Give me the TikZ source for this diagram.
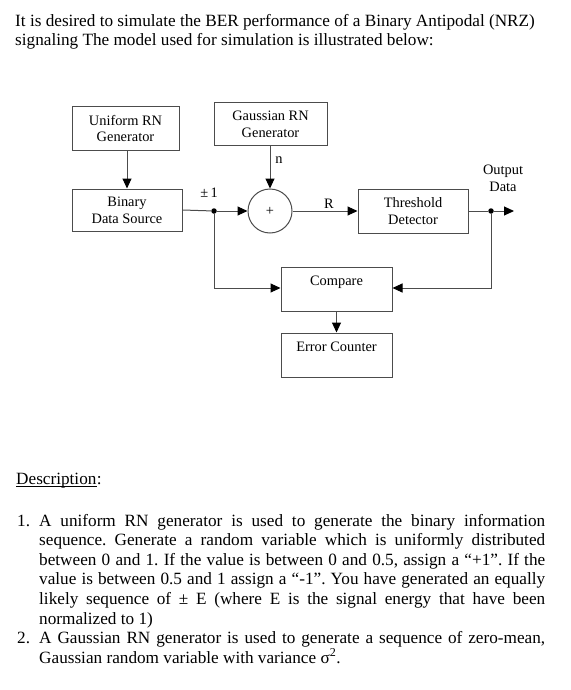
\documentclass[tikz,border=0pt]{standalone}
\usepackage{fontspec}
\setmainfont{Liberation Serif}
\usetikzlibrary{arrows.meta}
\frenchspacing
\begin{document}
\begin{tikzpicture}[x=1pt,y=-1pt,
  box/.style={draw=black!70,line width=1pt,inner sep=0pt,align=center,font=\fontsize{14.4}{17}\selectfont},
  conn/.style={draw=black!70,line width=1pt},
  arr/.style={conn,-{Triangle[length=10pt,width=9pt,color=black,fill=black]}},
  lbl/.style={inner sep=0pt,font=\fontsize{14.4}{17}\selectfont},
  txt/.style={inner sep=0pt,anchor=base west,font=\fontsize{17.2}{19.6}\selectfont},
  jdot/.style={circle,fill=black,inner sep=0pt,minimum size=5.5pt}]
\useasboundingbox (0,0) rectangle (570,690);
% title
\node[txt] (t1) at (15,27) {It is desired to simulate the BER performance of a Binary Antipodal (NRZ)};
\node[txt] (t2) at (15,45.5) {signaling The model used for simulation is illustrated below:};
% blocks
\node[box,minimum width=107pt,minimum height=43pt] (unif) at (125.5,128.5) {Uniform RN\\Generator};
\node[box,minimum width=113pt,minimum height=42pt] (gauss) at (270.5,124) {Gaussian RN\\Generator};
\node[box,minimum width=110pt,minimum height=42pt] (bin) at (127,210) {Binary\\Data Source};
\node[box,circle,minimum size=44pt] (sum) at (270,211) {+};
\node[box,minimum width=110pt,minimum height=44pt] (thr) at (413,211) {Threshold\\Detector};
\node[box,minimum width=111pt,minimum height=44pt] (cmp) at (336.5,289) {Compare\\\mbox{}};
\node[box,minimum width=111pt,minimum height=44pt] (err) at (336.5,355) {Error Counter\\\mbox{}};
% junctions
\node[jdot] (j1) at (214,211) {};
\node[jdot] (j2) at (491,211) {};
\coordinate (out) at (514,211);
\coordinate (c1) at (214,288);
\coordinate (c2) at (491,288);
% labels
\node[lbl] (pm) at (209,193) {±\,1};
\node[lbl] (n) at (279,160) {n};
\node[lbl] (r) at (329,204) {R};
\node[lbl,align=center] (od) at (503,178.5) {Output\\Data};
% connectors
\draw[arr] (bin.north |- unif.south) -- (bin.north);
\draw[conn] (bin.east) -- (j1);
\draw[arr] (j1) -- (sum.west);
\draw[arr] (gauss.south -| sum.north) -- (sum.north);
\draw[arr] (sum.east) -- (thr.west);
\draw[conn] (thr.east) -- (j2);
\draw[arr] (j2) -- (out);
\draw[arr] (j1) -- (c1) -- (c1 -| cmp.west);
\draw[arr] (j2) -- (c2) -- (c2 -| cmp.east);
\draw[arr] (cmp.south) -- (err.north);
% description
\node[txt] (desc) at (16,484) {Description};
\node[txt] (colon) at (desc.base east) {:};
\draw[line width=0.8pt] ([yshift=-2.2pt]desc.base west) -- ([yshift=-2.2pt]desc.base east);
\node[txt] (n1) at (17,526) {1.};
\node[txt] (l1) at (39,526) {\makebox[506pt][s]{A uniform RN generator is used to generate the binary information}};
\node[txt] (l2) at (39,545.6) {\makebox[506pt][s]{sequence. Generate a random variable which is uniformly distributed}};
\node[txt] (l3) at (39,565.2) {\makebox[506pt][s]{between 0 and 1. If the value is between 0 and 0.5, assign a “+1”. If the}};
\node[txt] (l4) at (39,584.8) {\makebox[506pt][s]{value is between 0.5 and 1 assign a “-1”. You have generated an equally}};
\node[txt] (l5) at (39,604.4) {\makebox[506pt][s]{likely sequence of ± E (where E is the signal energy that have been}};
\node[txt] (l6) at (39,624) {normalized to 1)};
\node[txt] (n2) at (17,643.6) {2.};
\node[txt] (l7) at (39,643.6) {\makebox[506pt][s]{A Gaussian RN generator is used to generate a sequence of zero-mean,}};
\node[txt] (l8) at (39,663.2) {Gaussian random variable with variance σ\textsuperscript{2}.};
\end{tikzpicture}
\end{document}
